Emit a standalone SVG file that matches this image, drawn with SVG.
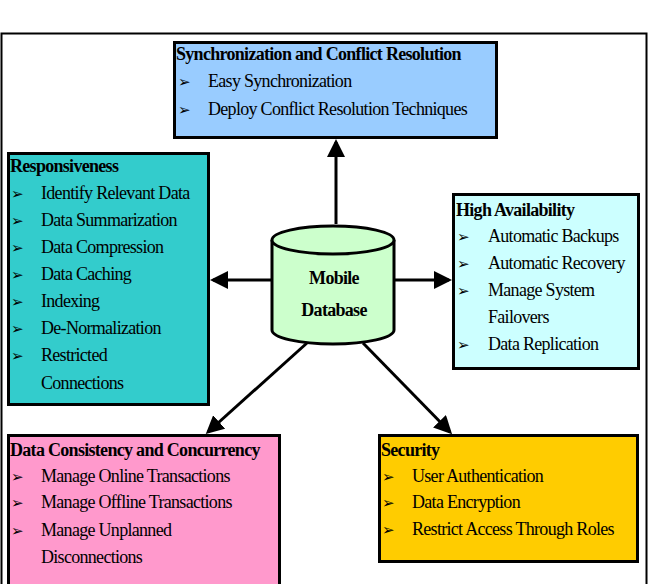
<svg xmlns="http://www.w3.org/2000/svg" width="648" height="584" viewBox="0 0 648 584">
<style>
text{font-family:"Liberation Serif",serif;font-size:18px;letter-spacing:-0.7px;fill:#000}
.t{font-weight:bold}
.b{font-family:"DejaVu Sans",sans-serif;font-size:15px;letter-spacing:0}
.box{stroke:#000;stroke-width:3}
.c{stroke:#000;stroke-width:3;fill:none}
</style>
<defs><marker id="a" markerWidth="6" markerHeight="6" refX="5" refY="3" orient="auto" markerUnits="strokeWidth"><path d="M0,0L6,3L0,6z" fill="#000"/></marker></defs>
<rect x="1.5" y="33.5" width="645" height="560" fill="none" stroke="#000" stroke-width="2"/>
<g id="connectors">
<line class="c" x1="336" y1="224" x2="336" y2="142" marker-end="url(#a)"/>
<line class="c" x1="272" y1="280" x2="213" y2="280" marker-end="url(#a)"/>
<line class="c" x1="394" y1="280" x2="449" y2="280" marker-end="url(#a)"/>
<line class="c" x1="307" y1="343" x2="208" y2="432" marker-end="url(#a)"/>
<line class="c" x1="363" y1="343" x2="450" y2="432" marker-end="url(#a)"/>
</g>
<g id="db">
<path class="box" d="M272,240 V330 A61,14 0 0 0 394,330 V240" fill="#ccffcc"/>
<ellipse class="box" cx="333" cy="240" rx="61" ry="14" fill="#ccffcc"/>
<text class="t" x="334" y="284" text-anchor="middle" font-size="20">Mobile</text>
<text class="t" x="334" y="316" text-anchor="middle" font-size="20">Database</text>
</g>
<g id="sync">
<rect class="box" x="174.5" y="42.5" width="322" height="95" fill="#99ccff"/>
<text class="t" x="176" y="60">Synchronization and Conflict Resolution</text>
<text class="b" x="178" y="87">➢</text><text x="208" y="87">Easy Synchronization</text>
<text class="b" x="178" y="115">➢</text><text x="208" y="115">Deploy Conflict Resolution Techniques</text>
</g>
<g id="resp">
<rect class="box" x="8.5" y="153.5" width="200" height="251" fill="#33cccc"/>
<text class="t" x="10" y="172">Responsiveness</text>
<text class="b" x="11" y="199">➢</text><text x="41" y="199">Identify Relevant Data</text>
<text class="b" x="11" y="226">➢</text><text x="41" y="226">Data Summarization</text>
<text class="b" x="11" y="253">➢</text><text x="41" y="253">Data Compression</text>
<text class="b" x="11" y="280">➢</text><text x="41" y="280">Data Caching</text>
<text class="b" x="11" y="307">➢</text><text x="41" y="307">Indexing</text>
<text class="b" x="11" y="334">➢</text><text x="41" y="334">De-Normalization</text>
<text class="b" x="11" y="361">➢</text><text x="41" y="361">Restricted</text>
<text x="41" y="389">Connections</text>
</g>
<g id="ha">
<rect class="box" x="453.5" y="194.5" width="185" height="174" fill="#ccffff"/>
<text class="t" x="456" y="216">High Availability</text>
<text class="b" x="457" y="242">➢</text><text x="488" y="242">Automatic Backups</text>
<text class="b" x="457" y="269">➢</text><text x="488" y="269">Automatic Recovery</text>
<text class="b" x="457" y="296">➢</text><text x="488" y="296">Manage System</text>
<text x="488" y="323">Failovers</text>
<text class="b" x="457" y="350">➢</text><text x="488" y="350">Data Replication</text>
</g>
<g id="cons">
<rect class="box" x="8.5" y="435.5" width="271" height="150" fill="#ff99cc"/>
<text class="t" x="10" y="456">Data Consistency and Concurrency</text>
<text class="b" x="11" y="482">➢</text><text x="41" y="482">Manage Online Transactions</text>
<text class="b" x="11" y="508">➢</text><text x="41" y="508">Manage Offline Transactions</text>
<text class="b" x="11" y="536">➢</text><text x="41" y="536">Manage Unplanned</text>
<text x="41" y="563">Disconnections</text>
</g>
<g id="sec">
<rect class="box" x="379.5" y="435.5" width="258" height="126" fill="#ffcc00"/>
<text class="t" x="381" y="456">Security</text>
<text class="b" x="382" y="482">➢</text><text x="412" y="482">User Authentication</text>
<text class="b" x="382" y="508">➢</text><text x="412" y="508">Data Encryption</text>
<text class="b" x="382" y="535">➢</text><text x="412" y="535">Restrict Access Through Roles</text>
</g>
</svg>
